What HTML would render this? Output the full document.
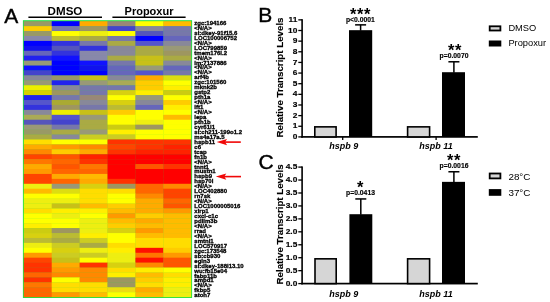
<!DOCTYPE html>
<html><head><meta charset="utf-8"><title>Figure</title>
<style>
html,body{margin:0;padding:0;background:#fff;}
svg{display:block;font-family:"Liberation Sans",sans-serif;filter:blur(0.4px);}
</style></head><body>
<svg width="550" height="302" viewBox="0 0 550 302" shape-rendering="auto">
<rect width="550" height="302" fill="#fff"/>
<rect x="22.9" y="20.2" width="169.2" height="277.8" fill="#22e044"/>
<rect x="23.80" y="21.20" width="28.20" height="5.23" fill="#999966"/>
<rect x="51.70" y="21.20" width="28.20" height="5.23" fill="#0000ff"/>
<rect x="79.60" y="21.20" width="28.20" height="5.23" fill="#ffaa00"/>
<rect x="107.50" y="21.20" width="28.20" height="5.23" fill="#998877"/>
<rect x="135.40" y="21.20" width="28.20" height="5.23" fill="#ffff00"/>
<rect x="163.30" y="21.20" width="27.90" height="5.23" fill="#ffbb00"/>
<rect x="23.80" y="26.13" width="28.20" height="5.23" fill="#ffcc00"/>
<rect x="51.70" y="26.13" width="28.20" height="5.23" fill="#7777aa"/>
<rect x="79.60" y="26.13" width="28.20" height="5.23" fill="#9e9660"/>
<rect x="107.50" y="26.13" width="28.20" height="5.23" fill="#4444cc"/>
<rect x="135.40" y="26.13" width="28.20" height="5.23" fill="#888899"/>
<rect x="163.30" y="26.13" width="27.90" height="5.23" fill="#7777aa"/>
<rect x="23.80" y="31.05" width="28.20" height="5.23" fill="#999966"/>
<rect x="51.70" y="31.05" width="28.20" height="5.23" fill="#ffff00"/>
<rect x="79.60" y="31.05" width="28.20" height="5.23" fill="#eeee11"/>
<rect x="107.50" y="31.05" width="28.20" height="5.23" fill="#ffff00"/>
<rect x="135.40" y="31.05" width="28.20" height="5.23" fill="#5555bb"/>
<rect x="163.30" y="31.05" width="27.90" height="5.23" fill="#7777aa"/>
<rect x="23.80" y="35.98" width="28.20" height="5.23" fill="#8888aa"/>
<rect x="51.70" y="35.98" width="28.20" height="5.23" fill="#bbbb33"/>
<rect x="79.60" y="35.98" width="28.20" height="5.23" fill="#aaaa44"/>
<rect x="107.50" y="35.98" width="28.20" height="5.23" fill="#7777aa"/>
<rect x="135.40" y="35.98" width="28.20" height="5.23" fill="#0000ff"/>
<rect x="163.30" y="35.98" width="27.90" height="5.23" fill="#6666bb"/>
<rect x="23.80" y="40.91" width="28.20" height="5.23" fill="#0000ff"/>
<rect x="51.70" y="40.91" width="28.20" height="5.23" fill="#3333dd"/>
<rect x="79.60" y="40.91" width="28.20" height="5.23" fill="#7777aa"/>
<rect x="107.50" y="40.91" width="28.20" height="5.23" fill="#aaaa44"/>
<rect x="135.40" y="40.91" width="28.20" height="5.23" fill="#5555cc"/>
<rect x="163.30" y="40.91" width="27.90" height="5.23" fill="#888899"/>
<rect x="23.80" y="45.83" width="28.20" height="5.23" fill="#1111ee"/>
<rect x="51.70" y="45.83" width="28.20" height="5.23" fill="#5555bb"/>
<rect x="79.60" y="45.83" width="28.20" height="5.23" fill="#3333dd"/>
<rect x="107.50" y="45.83" width="28.20" height="5.23" fill="#888899"/>
<rect x="135.40" y="45.83" width="28.20" height="5.23" fill="#aaaa44"/>
<rect x="163.30" y="45.83" width="27.90" height="5.23" fill="#999977"/>
<rect x="23.80" y="50.76" width="28.20" height="5.23" fill="#6666bb"/>
<rect x="51.70" y="50.76" width="28.20" height="5.23" fill="#3333dd"/>
<rect x="79.60" y="50.76" width="28.20" height="5.23" fill="#8888aa"/>
<rect x="107.50" y="50.76" width="28.20" height="5.23" fill="#888899"/>
<rect x="135.40" y="50.76" width="28.20" height="5.23" fill="#aaaa44"/>
<rect x="163.30" y="50.76" width="27.90" height="5.23" fill="#9e9660"/>
<rect x="23.80" y="55.69" width="28.20" height="5.23" fill="#2222ee"/>
<rect x="51.70" y="55.69" width="28.20" height="5.23" fill="#1111ff"/>
<rect x="79.60" y="55.69" width="28.20" height="5.23" fill="#8888aa"/>
<rect x="107.50" y="55.69" width="28.20" height="5.23" fill="#aaaa44"/>
<rect x="135.40" y="55.69" width="28.20" height="5.23" fill="#c8c018"/>
<rect x="163.30" y="55.69" width="27.90" height="5.23" fill="#aaaa44"/>
<rect x="23.80" y="60.61" width="28.20" height="5.23" fill="#999977"/>
<rect x="51.70" y="60.61" width="28.20" height="5.23" fill="#0000ff"/>
<rect x="79.60" y="60.61" width="28.20" height="5.23" fill="#1111ff"/>
<rect x="107.50" y="60.61" width="28.20" height="5.23" fill="#7777aa"/>
<rect x="135.40" y="60.61" width="28.20" height="5.23" fill="#c8c018"/>
<rect x="163.30" y="60.61" width="27.90" height="5.23" fill="#888899"/>
<rect x="23.80" y="65.54" width="28.20" height="5.23" fill="#1111ff"/>
<rect x="51.70" y="65.54" width="28.20" height="5.23" fill="#0000ff"/>
<rect x="79.60" y="65.54" width="28.20" height="5.23" fill="#1111ee"/>
<rect x="107.50" y="65.54" width="28.20" height="5.23" fill="#6666bb"/>
<rect x="135.40" y="65.54" width="28.20" height="5.23" fill="#999977"/>
<rect x="163.30" y="65.54" width="27.90" height="5.23" fill="#6666bb"/>
<rect x="23.80" y="70.47" width="28.20" height="5.23" fill="#4444cc"/>
<rect x="51.70" y="70.47" width="28.20" height="5.23" fill="#0000ff"/>
<rect x="79.60" y="70.47" width="28.20" height="5.23" fill="#0000ff"/>
<rect x="107.50" y="70.47" width="28.20" height="5.23" fill="#6666bb"/>
<rect x="135.40" y="70.47" width="28.20" height="5.23" fill="#5555cc"/>
<rect x="163.30" y="70.47" width="27.90" height="5.23" fill="#7777aa"/>
<rect x="23.80" y="75.39" width="28.20" height="5.23" fill="#888899"/>
<rect x="51.70" y="75.39" width="28.20" height="5.23" fill="#999966"/>
<rect x="79.60" y="75.39" width="28.20" height="5.23" fill="#c8c018"/>
<rect x="107.50" y="75.39" width="28.20" height="5.23" fill="#888899"/>
<rect x="135.40" y="75.39" width="28.20" height="5.23" fill="#ffaa00"/>
<rect x="163.30" y="75.39" width="27.90" height="5.23" fill="#dddd11"/>
<rect x="23.80" y="80.32" width="28.20" height="5.23" fill="#999977"/>
<rect x="51.70" y="80.32" width="28.20" height="5.23" fill="#2222ee"/>
<rect x="79.60" y="80.32" width="28.20" height="5.23" fill="#999977"/>
<rect x="107.50" y="80.32" width="28.20" height="5.23" fill="#aaaa55"/>
<rect x="135.40" y="80.32" width="28.20" height="5.23" fill="#ffcc00"/>
<rect x="163.30" y="80.32" width="27.90" height="5.23" fill="#ffff00"/>
<rect x="23.80" y="85.25" width="28.20" height="5.23" fill="#eeee00"/>
<rect x="51.70" y="85.25" width="28.20" height="5.23" fill="#888899"/>
<rect x="79.60" y="85.25" width="28.20" height="5.23" fill="#7777aa"/>
<rect x="107.50" y="85.25" width="28.20" height="5.23" fill="#7777aa"/>
<rect x="135.40" y="85.25" width="28.20" height="5.23" fill="#ffcc00"/>
<rect x="163.30" y="85.25" width="27.90" height="5.23" fill="#ffee00"/>
<rect x="23.80" y="90.18" width="28.20" height="5.23" fill="#d8d000"/>
<rect x="51.70" y="90.18" width="28.20" height="5.23" fill="#9e9660"/>
<rect x="79.60" y="90.18" width="28.20" height="5.23" fill="#7777aa"/>
<rect x="107.50" y="90.18" width="28.20" height="5.23" fill="#d8d010"/>
<rect x="135.40" y="90.18" width="28.20" height="5.23" fill="#ffee00"/>
<rect x="163.30" y="90.18" width="27.90" height="5.23" fill="#cccc11"/>
<rect x="23.80" y="95.10" width="28.20" height="5.23" fill="#2222ee"/>
<rect x="51.70" y="95.10" width="28.20" height="5.23" fill="#7777aa"/>
<rect x="79.60" y="95.10" width="28.20" height="5.23" fill="#998877"/>
<rect x="107.50" y="95.10" width="28.20" height="5.23" fill="#ffff00"/>
<rect x="135.40" y="95.10" width="28.20" height="5.23" fill="#999977"/>
<rect x="163.30" y="95.10" width="27.90" height="5.23" fill="#ffff00"/>
<rect x="23.80" y="100.03" width="28.20" height="5.23" fill="#5555cc"/>
<rect x="51.70" y="100.03" width="28.20" height="5.23" fill="#aaaa33"/>
<rect x="79.60" y="100.03" width="28.20" height="5.23" fill="#888899"/>
<rect x="107.50" y="100.03" width="28.20" height="5.23" fill="#d8d010"/>
<rect x="135.40" y="100.03" width="28.20" height="5.23" fill="#888899"/>
<rect x="163.30" y="100.03" width="27.90" height="5.23" fill="#ffcc00"/>
<rect x="23.80" y="104.96" width="28.20" height="5.23" fill="#3333dd"/>
<rect x="51.70" y="104.96" width="28.20" height="5.23" fill="#9e9660"/>
<rect x="79.60" y="104.96" width="28.20" height="5.23" fill="#7777aa"/>
<rect x="107.50" y="104.96" width="28.20" height="5.23" fill="#bbbb33"/>
<rect x="135.40" y="104.96" width="28.20" height="5.23" fill="#6666bb"/>
<rect x="163.30" y="104.96" width="27.90" height="5.23" fill="#ffee00"/>
<rect x="23.80" y="109.88" width="28.20" height="5.23" fill="#888899"/>
<rect x="51.70" y="109.88" width="28.20" height="5.23" fill="#eeee00"/>
<rect x="79.60" y="109.88" width="28.20" height="5.23" fill="#c8c018"/>
<rect x="107.50" y="109.88" width="28.20" height="5.23" fill="#ffcc00"/>
<rect x="135.40" y="109.88" width="28.20" height="5.23" fill="#ffff00"/>
<rect x="163.30" y="109.88" width="27.90" height="5.23" fill="#ffff00"/>
<rect x="23.80" y="114.81" width="28.20" height="5.23" fill="#aaaa55"/>
<rect x="51.70" y="114.81" width="28.20" height="5.23" fill="#5555cc"/>
<rect x="79.60" y="114.81" width="28.20" height="5.23" fill="#999977"/>
<rect x="107.50" y="114.81" width="28.20" height="5.23" fill="#ffff00"/>
<rect x="135.40" y="114.81" width="28.20" height="5.23" fill="#ffff00"/>
<rect x="163.30" y="114.81" width="27.90" height="5.23" fill="#ffbb00"/>
<rect x="23.80" y="119.74" width="28.20" height="5.23" fill="#5555bb"/>
<rect x="51.70" y="119.74" width="28.20" height="5.23" fill="#4444cc"/>
<rect x="79.60" y="119.74" width="28.20" height="5.23" fill="#aaaa44"/>
<rect x="107.50" y="119.74" width="28.20" height="5.23" fill="#ffff00"/>
<rect x="135.40" y="119.74" width="28.20" height="5.23" fill="#eeee11"/>
<rect x="163.30" y="119.74" width="27.90" height="5.23" fill="#ffff00"/>
<rect x="23.80" y="124.66" width="28.20" height="5.23" fill="#999977"/>
<rect x="51.70" y="124.66" width="28.20" height="5.23" fill="#7777aa"/>
<rect x="79.60" y="124.66" width="28.20" height="5.23" fill="#aaaa44"/>
<rect x="107.50" y="124.66" width="28.20" height="5.23" fill="#cccc11"/>
<rect x="135.40" y="124.66" width="28.20" height="5.23" fill="#9e9660"/>
<rect x="163.30" y="124.66" width="27.90" height="5.23" fill="#ffff00"/>
<rect x="23.80" y="129.59" width="28.20" height="5.23" fill="#999966"/>
<rect x="51.70" y="129.59" width="28.20" height="5.23" fill="#aaaa44"/>
<rect x="79.60" y="129.59" width="28.20" height="5.23" fill="#999977"/>
<rect x="107.50" y="129.59" width="28.20" height="5.23" fill="#ffee00"/>
<rect x="135.40" y="129.59" width="28.20" height="5.23" fill="#ffff00"/>
<rect x="163.30" y="129.59" width="27.90" height="5.23" fill="#ffff00"/>
<rect x="23.80" y="134.52" width="28.20" height="5.23" fill="#aaaa44"/>
<rect x="51.70" y="134.52" width="28.20" height="5.23" fill="#888899"/>
<rect x="79.60" y="134.52" width="28.20" height="5.23" fill="#cccc22"/>
<rect x="107.50" y="134.52" width="28.20" height="5.23" fill="#cccc22"/>
<rect x="135.40" y="134.52" width="28.20" height="5.23" fill="#ffff00"/>
<rect x="163.30" y="134.52" width="27.90" height="5.23" fill="#ffff00"/>
<rect x="23.80" y="139.44" width="28.20" height="5.23" fill="#ffdd00"/>
<rect x="51.70" y="139.44" width="28.20" height="5.23" fill="#ffff00"/>
<rect x="79.60" y="139.44" width="28.20" height="5.23" fill="#ffff00"/>
<rect x="107.50" y="139.44" width="28.20" height="5.23" fill="#ff3300"/>
<rect x="135.40" y="139.44" width="28.20" height="5.23" fill="#ff3300"/>
<rect x="163.30" y="139.44" width="27.90" height="5.23" fill="#ff3300"/>
<rect x="23.80" y="144.37" width="28.20" height="5.23" fill="#ffaa00"/>
<rect x="51.70" y="144.37" width="28.20" height="5.23" fill="#ff9900"/>
<rect x="79.60" y="144.37" width="28.20" height="5.23" fill="#ff8800"/>
<rect x="107.50" y="144.37" width="28.20" height="5.23" fill="#ff4400"/>
<rect x="135.40" y="144.37" width="28.20" height="5.23" fill="#ff3300"/>
<rect x="163.30" y="144.37" width="27.90" height="5.23" fill="#ff2200"/>
<rect x="23.80" y="149.30" width="28.20" height="5.23" fill="#ff8800"/>
<rect x="51.70" y="149.30" width="28.20" height="5.23" fill="#ffcc00"/>
<rect x="79.60" y="149.30" width="28.20" height="5.23" fill="#ffaa00"/>
<rect x="107.50" y="149.30" width="28.20" height="5.23" fill="#ff3300"/>
<rect x="135.40" y="149.30" width="28.20" height="5.23" fill="#ff2200"/>
<rect x="163.30" y="149.30" width="27.90" height="5.23" fill="#ff2200"/>
<rect x="23.80" y="154.22" width="28.20" height="5.23" fill="#ff4400"/>
<rect x="51.70" y="154.22" width="28.20" height="5.23" fill="#ff5500"/>
<rect x="79.60" y="154.22" width="28.20" height="5.23" fill="#ff2200"/>
<rect x="107.50" y="154.22" width="28.20" height="5.23" fill="#ff0000"/>
<rect x="135.40" y="154.22" width="28.20" height="5.23" fill="#ff0000"/>
<rect x="163.30" y="154.22" width="27.90" height="5.23" fill="#ff0000"/>
<rect x="23.80" y="159.15" width="28.20" height="5.23" fill="#ff7700"/>
<rect x="51.70" y="159.15" width="28.20" height="5.23" fill="#ff6600"/>
<rect x="79.60" y="159.15" width="28.20" height="5.23" fill="#ff3300"/>
<rect x="107.50" y="159.15" width="28.20" height="5.23" fill="#ff0000"/>
<rect x="135.40" y="159.15" width="28.20" height="5.23" fill="#ff0000"/>
<rect x="163.30" y="159.15" width="27.90" height="5.23" fill="#ff0000"/>
<rect x="23.80" y="164.08" width="28.20" height="5.23" fill="#ffaa00"/>
<rect x="51.70" y="164.08" width="28.20" height="5.23" fill="#ff5500"/>
<rect x="79.60" y="164.08" width="28.20" height="5.23" fill="#ff7700"/>
<rect x="107.50" y="164.08" width="28.20" height="5.23" fill="#ff0000"/>
<rect x="135.40" y="164.08" width="28.20" height="5.23" fill="#ff5500"/>
<rect x="163.30" y="164.08" width="27.90" height="5.23" fill="#ff3300"/>
<rect x="23.80" y="169.00" width="28.20" height="5.23" fill="#ff9900"/>
<rect x="51.70" y="169.00" width="28.20" height="5.23" fill="#ff6600"/>
<rect x="79.60" y="169.00" width="28.20" height="5.23" fill="#ff6600"/>
<rect x="107.50" y="169.00" width="28.20" height="5.23" fill="#ff0000"/>
<rect x="135.40" y="169.00" width="28.20" height="5.23" fill="#ff0000"/>
<rect x="163.30" y="169.00" width="27.90" height="5.23" fill="#ff0000"/>
<rect x="23.80" y="173.93" width="28.20" height="5.23" fill="#ff4400"/>
<rect x="51.70" y="173.93" width="28.20" height="5.23" fill="#ffaa00"/>
<rect x="79.60" y="173.93" width="28.20" height="5.23" fill="#ffbb00"/>
<rect x="107.50" y="173.93" width="28.20" height="5.23" fill="#ff0000"/>
<rect x="135.40" y="173.93" width="28.20" height="5.23" fill="#ff0000"/>
<rect x="163.30" y="173.93" width="27.90" height="5.23" fill="#ff0000"/>
<rect x="23.80" y="178.86" width="28.20" height="5.23" fill="#ff4400"/>
<rect x="51.70" y="178.86" width="28.20" height="5.23" fill="#ff6600"/>
<rect x="79.60" y="178.86" width="28.20" height="5.23" fill="#ffaa00"/>
<rect x="107.50" y="178.86" width="28.20" height="5.23" fill="#ff3300"/>
<rect x="135.40" y="178.86" width="28.20" height="5.23" fill="#ff0000"/>
<rect x="163.30" y="178.86" width="27.90" height="5.23" fill="#ff0000"/>
<rect x="23.80" y="183.78" width="28.20" height="5.23" fill="#eeee11"/>
<rect x="51.70" y="183.78" width="28.20" height="5.23" fill="#999977"/>
<rect x="79.60" y="183.78" width="28.20" height="5.23" fill="#d8d010"/>
<rect x="107.50" y="183.78" width="28.20" height="5.23" fill="#9e9660"/>
<rect x="135.40" y="183.78" width="28.20" height="5.23" fill="#ff6600"/>
<rect x="163.30" y="183.78" width="27.90" height="5.23" fill="#ff8800"/>
<rect x="23.80" y="188.71" width="28.20" height="5.23" fill="#ffbb00"/>
<rect x="51.70" y="188.71" width="28.20" height="5.23" fill="#dddd11"/>
<rect x="79.60" y="188.71" width="28.20" height="5.23" fill="#ffdd00"/>
<rect x="107.50" y="188.71" width="28.20" height="5.23" fill="#ffdd00"/>
<rect x="135.40" y="188.71" width="28.20" height="5.23" fill="#ff6600"/>
<rect x="163.30" y="188.71" width="27.90" height="5.23" fill="#ff4400"/>
<rect x="23.80" y="193.64" width="28.20" height="5.23" fill="#ffff00"/>
<rect x="51.70" y="193.64" width="28.20" height="5.23" fill="#ffff00"/>
<rect x="79.60" y="193.64" width="28.20" height="5.23" fill="#ffdd00"/>
<rect x="107.50" y="193.64" width="28.20" height="5.23" fill="#ffff00"/>
<rect x="135.40" y="193.64" width="28.20" height="5.23" fill="#ff8800"/>
<rect x="163.30" y="193.64" width="27.90" height="5.23" fill="#ff4400"/>
<rect x="23.80" y="198.56" width="28.20" height="5.23" fill="#eeee11"/>
<rect x="51.70" y="198.56" width="28.20" height="5.23" fill="#eeee11"/>
<rect x="79.60" y="198.56" width="28.20" height="5.23" fill="#ffdd00"/>
<rect x="107.50" y="198.56" width="28.20" height="5.23" fill="#ffff00"/>
<rect x="135.40" y="198.56" width="28.20" height="5.23" fill="#ffaa00"/>
<rect x="163.30" y="198.56" width="27.90" height="5.23" fill="#ff6600"/>
<rect x="23.80" y="203.49" width="28.20" height="5.23" fill="#eeee11"/>
<rect x="51.70" y="203.49" width="28.20" height="5.23" fill="#c8c018"/>
<rect x="79.60" y="203.49" width="28.20" height="5.23" fill="#ffbb00"/>
<rect x="107.50" y="203.49" width="28.20" height="5.23" fill="#ffcc00"/>
<rect x="135.40" y="203.49" width="28.20" height="5.23" fill="#ffaa00"/>
<rect x="163.30" y="203.49" width="27.90" height="5.23" fill="#ff5500"/>
<rect x="23.80" y="208.42" width="28.20" height="5.23" fill="#ffdd00"/>
<rect x="51.70" y="208.42" width="28.20" height="5.23" fill="#ffee00"/>
<rect x="79.60" y="208.42" width="28.20" height="5.23" fill="#ffee00"/>
<rect x="107.50" y="208.42" width="28.20" height="5.23" fill="#ffbb00"/>
<rect x="135.40" y="208.42" width="28.20" height="5.23" fill="#ffaa00"/>
<rect x="163.30" y="208.42" width="27.90" height="5.23" fill="#ff9900"/>
<rect x="23.80" y="213.34" width="28.20" height="5.23" fill="#ffff00"/>
<rect x="51.70" y="213.34" width="28.20" height="5.23" fill="#eeee11"/>
<rect x="79.60" y="213.34" width="28.20" height="5.23" fill="#ffff00"/>
<rect x="107.50" y="213.34" width="28.20" height="5.23" fill="#ff9900"/>
<rect x="135.40" y="213.34" width="28.20" height="5.23" fill="#ffcc00"/>
<rect x="163.30" y="213.34" width="27.90" height="5.23" fill="#ffbb00"/>
<rect x="23.80" y="218.27" width="28.20" height="5.23" fill="#ffff00"/>
<rect x="51.70" y="218.27" width="28.20" height="5.23" fill="#ffff00"/>
<rect x="79.60" y="218.27" width="28.20" height="5.23" fill="#eeee11"/>
<rect x="107.50" y="218.27" width="28.20" height="5.23" fill="#ffbb00"/>
<rect x="135.40" y="218.27" width="28.20" height="5.23" fill="#ffaa00"/>
<rect x="163.30" y="218.27" width="27.90" height="5.23" fill="#ffbb00"/>
<rect x="23.80" y="223.20" width="28.20" height="5.23" fill="#ffee00"/>
<rect x="51.70" y="223.20" width="28.20" height="5.23" fill="#ffff00"/>
<rect x="79.60" y="223.20" width="28.20" height="5.23" fill="#eeee11"/>
<rect x="107.50" y="223.20" width="28.20" height="5.23" fill="#ffcc00"/>
<rect x="135.40" y="223.20" width="28.20" height="5.23" fill="#ffbb00"/>
<rect x="163.30" y="223.20" width="27.90" height="5.23" fill="#ffbb00"/>
<rect x="23.80" y="228.12" width="28.20" height="5.23" fill="#cccc11"/>
<rect x="51.70" y="228.12" width="28.20" height="5.23" fill="#9e9660"/>
<rect x="79.60" y="228.12" width="28.20" height="5.23" fill="#eeee11"/>
<rect x="107.50" y="228.12" width="28.20" height="5.23" fill="#d8d010"/>
<rect x="135.40" y="228.12" width="28.20" height="5.23" fill="#ff9900"/>
<rect x="163.30" y="228.12" width="27.90" height="5.23" fill="#ffbb00"/>
<rect x="23.80" y="233.05" width="28.20" height="5.23" fill="#d8d010"/>
<rect x="51.70" y="233.05" width="28.20" height="5.23" fill="#bbbb33"/>
<rect x="79.60" y="233.05" width="28.20" height="5.23" fill="#ffee00"/>
<rect x="107.50" y="233.05" width="28.20" height="5.23" fill="#ffff00"/>
<rect x="135.40" y="233.05" width="28.20" height="5.23" fill="#ffbb00"/>
<rect x="163.30" y="233.05" width="27.90" height="5.23" fill="#ffbb00"/>
<rect x="23.80" y="237.98" width="28.20" height="5.23" fill="#bbbb33"/>
<rect x="51.70" y="237.98" width="28.20" height="5.23" fill="#aaaa44"/>
<rect x="79.60" y="237.98" width="28.20" height="5.23" fill="#cccc22"/>
<rect x="107.50" y="237.98" width="28.20" height="5.23" fill="#ffff00"/>
<rect x="135.40" y="237.98" width="28.20" height="5.23" fill="#ffdd00"/>
<rect x="163.30" y="237.98" width="27.90" height="5.23" fill="#ffdd00"/>
<rect x="23.80" y="242.91" width="28.20" height="5.23" fill="#eeee11"/>
<rect x="51.70" y="242.91" width="28.20" height="5.23" fill="#cccc22"/>
<rect x="79.60" y="242.91" width="28.20" height="5.23" fill="#aaaa44"/>
<rect x="107.50" y="242.91" width="28.20" height="5.23" fill="#ffdd00"/>
<rect x="135.40" y="242.91" width="28.20" height="5.23" fill="#ffdd00"/>
<rect x="163.30" y="242.91" width="27.90" height="5.23" fill="#ffdd00"/>
<rect x="23.80" y="247.83" width="28.20" height="5.23" fill="#ffff00"/>
<rect x="51.70" y="247.83" width="28.20" height="5.23" fill="#d8d010"/>
<rect x="79.60" y="247.83" width="28.20" height="5.23" fill="#eeee11"/>
<rect x="107.50" y="247.83" width="28.20" height="5.23" fill="#ffee00"/>
<rect x="135.40" y="247.83" width="28.20" height="5.23" fill="#ff1100"/>
<rect x="163.30" y="247.83" width="27.90" height="5.23" fill="#ffcc00"/>
<rect x="23.80" y="252.76" width="28.20" height="5.23" fill="#ff9900"/>
<rect x="51.70" y="252.76" width="28.20" height="5.23" fill="#cccc22"/>
<rect x="79.60" y="252.76" width="28.20" height="5.23" fill="#cccc22"/>
<rect x="107.50" y="252.76" width="28.20" height="5.23" fill="#eeee11"/>
<rect x="135.40" y="252.76" width="28.20" height="5.23" fill="#ff7700"/>
<rect x="163.30" y="252.76" width="27.90" height="5.23" fill="#ff9900"/>
<rect x="23.80" y="257.69" width="28.20" height="5.23" fill="#ff4400"/>
<rect x="51.70" y="257.69" width="28.20" height="5.23" fill="#c8c018"/>
<rect x="79.60" y="257.69" width="28.20" height="5.23" fill="#ffff00"/>
<rect x="107.50" y="257.69" width="28.20" height="5.23" fill="#eeee11"/>
<rect x="135.40" y="257.69" width="28.20" height="5.23" fill="#ff1100"/>
<rect x="163.30" y="257.69" width="27.90" height="5.23" fill="#ff5500"/>
<rect x="23.80" y="262.61" width="28.20" height="5.23" fill="#ff3300"/>
<rect x="51.70" y="262.61" width="28.20" height="5.23" fill="#ffaa00"/>
<rect x="79.60" y="262.61" width="28.20" height="5.23" fill="#ff3300"/>
<rect x="107.50" y="262.61" width="28.20" height="5.23" fill="#d8d010"/>
<rect x="135.40" y="262.61" width="28.20" height="5.23" fill="#ff8800"/>
<rect x="163.30" y="262.61" width="27.90" height="5.23" fill="#ff5500"/>
<rect x="23.80" y="267.54" width="28.20" height="5.23" fill="#ff3300"/>
<rect x="51.70" y="267.54" width="28.20" height="5.23" fill="#ff9900"/>
<rect x="79.60" y="267.54" width="28.20" height="5.23" fill="#ff8800"/>
<rect x="107.50" y="267.54" width="28.20" height="5.23" fill="#ffdd00"/>
<rect x="135.40" y="267.54" width="28.20" height="5.23" fill="#ffee00"/>
<rect x="163.30" y="267.54" width="27.90" height="5.23" fill="#ffff00"/>
<rect x="23.80" y="272.47" width="28.20" height="5.23" fill="#ff6600"/>
<rect x="51.70" y="272.47" width="28.20" height="5.23" fill="#ff8800"/>
<rect x="79.60" y="272.47" width="28.20" height="5.23" fill="#ff8800"/>
<rect x="107.50" y="272.47" width="28.20" height="5.23" fill="#ffee00"/>
<rect x="135.40" y="272.47" width="28.20" height="5.23" fill="#ffbb00"/>
<rect x="163.30" y="272.47" width="27.90" height="5.23" fill="#ffdd00"/>
<rect x="23.80" y="277.39" width="28.20" height="5.23" fill="#ff3300"/>
<rect x="51.70" y="277.39" width="28.20" height="5.23" fill="#ffff00"/>
<rect x="79.60" y="277.39" width="28.20" height="5.23" fill="#ff8800"/>
<rect x="107.50" y="277.39" width="28.20" height="5.23" fill="#9e9660"/>
<rect x="135.40" y="277.39" width="28.20" height="5.23" fill="#ffcc00"/>
<rect x="163.30" y="277.39" width="27.90" height="5.23" fill="#ffee00"/>
<rect x="23.80" y="282.32" width="28.20" height="5.23" fill="#ff7700"/>
<rect x="51.70" y="282.32" width="28.20" height="5.23" fill="#ffdd00"/>
<rect x="79.60" y="282.32" width="28.20" height="5.23" fill="#ffdd00"/>
<rect x="107.50" y="282.32" width="28.20" height="5.23" fill="#9e9660"/>
<rect x="135.40" y="282.32" width="28.20" height="5.23" fill="#ffdd00"/>
<rect x="163.30" y="282.32" width="27.90" height="5.23" fill="#ffee00"/>
<rect x="23.80" y="287.25" width="28.20" height="5.23" fill="#ff6600"/>
<rect x="51.70" y="287.25" width="28.20" height="5.23" fill="#ffdd00"/>
<rect x="79.60" y="287.25" width="28.20" height="5.23" fill="#ffdd00"/>
<rect x="107.50" y="287.25" width="28.20" height="5.23" fill="#eedd11"/>
<rect x="135.40" y="287.25" width="28.20" height="5.23" fill="#ffaa00"/>
<rect x="163.30" y="287.25" width="27.90" height="5.23" fill="#eeee11"/>
<rect x="23.80" y="292.17" width="28.20" height="4.93" fill="#ff6600"/>
<rect x="51.70" y="292.17" width="28.20" height="4.93" fill="#ff9900"/>
<rect x="79.60" y="292.17" width="28.20" height="4.93" fill="#ffbb00"/>
<rect x="107.50" y="292.17" width="28.20" height="4.93" fill="#ffff00"/>
<rect x="135.40" y="292.17" width="28.20" height="4.93" fill="#ffbb00"/>
<rect x="163.30" y="292.17" width="27.90" height="4.93" fill="#eeee11"/>
<g font-size="6.0" font-weight="bold" fill="#000" stroke="#000" stroke-width="0.3">
<text x="194.3" y="24.90">zgc:194166</text>
<text x="194.3" y="29.85">&lt;N/A&gt;</text>
<text x="194.3" y="34.81">si:dkey-91f15.6</text>
<text x="194.3" y="39.76">LOC100006752</text>
<text x="194.3" y="44.71">&lt;N/A&gt;</text>
<text x="194.3" y="49.66">LOC799859</text>
<text x="194.3" y="54.62">tmem176l.2</text>
<text x="194.3" y="59.57">&lt;N/A&gt;</text>
<text x="194.3" y="64.52">im:7137886</text>
<text x="194.3" y="69.48">&lt;N/A&gt;</text>
<text x="194.3" y="74.43">&lt;N/A&gt;</text>
<text x="194.3" y="79.38">arf4b</text>
<text x="194.3" y="84.34">zgc:101560</text>
<text x="194.3" y="89.29">mknk2b</text>
<text x="194.3" y="94.24">gstp2</text>
<text x="194.3" y="99.19">pth1a</text>
<text x="194.3" y="104.15">&lt;N/A&gt;</text>
<text x="194.3" y="109.10">ift1</text>
<text x="194.3" y="114.05">&lt;N/A&gt;</text>
<text x="194.3" y="119.01">lepa</text>
<text x="194.3" y="123.96">pth1b</text>
<text x="194.3" y="128.91">cyr61l1</text>
<text x="194.3" y="133.87">si:ch211-199o1.2</text>
<text x="194.3" y="138.82">ms4a17a.5</text>
<text x="194.3" y="143.77">hspb11</text>
<text x="194.3" y="148.72">c6</text>
<text x="194.3" y="153.68">tcap</text>
<text x="194.3" y="158.63">fn1b</text>
<text x="194.3" y="163.58">&lt;N/A&gt;</text>
<text x="194.3" y="168.54">tnnt1</text>
<text x="194.3" y="173.49">mustn1</text>
<text x="194.3" y="178.44">hspb9</text>
<text x="194.3" y="183.40">hsp70l</text>
<text x="194.3" y="188.35">&lt;N/A&gt;</text>
<text x="194.3" y="193.30">LOC402880</text>
<text x="194.3" y="198.26">rn7sk</text>
<text x="194.3" y="203.21">&lt;N/A&gt;</text>
<text x="194.3" y="208.16">LOC1000005016</text>
<text x="194.3" y="213.11">xirp1</text>
<text x="194.3" y="218.07">cxcl-c1c</text>
<text x="194.3" y="223.02">pdlim3b</text>
<text x="194.3" y="227.97">&lt;N/A&gt;</text>
<text x="194.3" y="232.93">rrad</text>
<text x="194.3" y="237.88">&lt;N/A&gt;</text>
<text x="194.3" y="242.83">smtnl1</text>
<text x="194.3" y="247.79">LOC570917</text>
<text x="194.3" y="252.74">zgc:173548</text>
<text x="194.3" y="257.69">sb:cb930</text>
<text x="194.3" y="262.64">egln3</text>
<text x="194.3" y="267.60">si:dkey-188i13.10</text>
<text x="194.3" y="272.55">wu:fb15e04</text>
<text x="194.3" y="277.50">fabp11b</text>
<text x="194.3" y="282.46">ampd1</text>
<text x="194.3" y="287.41">&lt;N/A&gt;</text>
<text x="194.3" y="292.36">fkbp5</text>
<text x="194.3" y="297.31">atoh7</text>
</g>
<text x="4.2" y="22.6" font-size="21" stroke="#000" stroke-width="0.4">A</text>
<text x="65" y="15" font-size="11.6" font-weight="bold" text-anchor="middle">DMSO</text>
<text x="149" y="15" font-size="11" font-weight="bold" text-anchor="middle">Propoxur</text>
<rect x="28.4" y="16.5" width="73.6" height="1.5" fill="#000"/>
<rect x="112.4" y="16.5" width="73.2" height="1.5" fill="#000"/>
<rect x="222.6" y="141.29999999999998" width="18.200000000000017" height="1.6" fill="#f00808"/><path d="M216.6 142.1 L227.1 138.9 L225.1 142.1 L227.1 145.29999999999998 Z" fill="#f00808"/>
<rect x="221.8" y="175.79999999999998" width="19.19999999999999" height="1.6" fill="#f00808"/><path d="M215.8 176.6 L226.3 173.4 L224.3 176.6 L226.3 179.79999999999998 Z" fill="#f00808"/>
<text x="258.2" y="22.4" font-size="21" stroke="#000" stroke-width="0.4">B</text>
<rect x="301.3" y="19.16" width="1.6" height="118.54" fill="#000"/>
<rect x="301.3" y="136.05" width="176.50" height="1.7" fill="#000"/>
<g font-size="7.4" font-weight="bold" text-anchor="end" stroke="#000" stroke-width="0.15">
<rect x="298.3" y="136.25" width="3.8" height="1.3" fill="#000" stroke="none"/>
<text transform="translate(297.3 139.05) scale(1.13 1)">0</text>
<rect x="298.3" y="125.61" width="3.8" height="1.3" fill="#000" stroke="none"/>
<text transform="translate(297.3 128.41) scale(1.13 1)">1</text>
<rect x="298.3" y="114.97" width="3.8" height="1.3" fill="#000" stroke="none"/>
<text transform="translate(297.3 117.77) scale(1.13 1)">2</text>
<rect x="298.3" y="104.33" width="3.8" height="1.3" fill="#000" stroke="none"/>
<text transform="translate(297.3 107.13) scale(1.13 1)">3</text>
<rect x="298.3" y="93.69" width="3.8" height="1.3" fill="#000" stroke="none"/>
<text transform="translate(297.3 96.49) scale(1.13 1)">4</text>
<rect x="298.3" y="83.05" width="3.8" height="1.3" fill="#000" stroke="none"/>
<text transform="translate(297.3 85.85) scale(1.13 1)">5</text>
<rect x="298.3" y="72.41" width="3.8" height="1.3" fill="#000" stroke="none"/>
<text transform="translate(297.3 75.21) scale(1.13 1)">6</text>
<rect x="298.3" y="61.77" width="3.8" height="1.3" fill="#000" stroke="none"/>
<text transform="translate(297.3 64.57) scale(1.13 1)">7</text>
<rect x="298.3" y="51.13" width="3.8" height="1.3" fill="#000" stroke="none"/>
<text transform="translate(297.3 53.93) scale(1.13 1)">8</text>
<rect x="298.3" y="40.49" width="3.8" height="1.3" fill="#000" stroke="none"/>
<text transform="translate(297.3 43.29) scale(1.13 1)">9</text>
<rect x="298.3" y="29.85" width="3.8" height="1.3" fill="#000" stroke="none"/>
<text transform="translate(297.3 32.65) scale(1.13 1)">10</text>
<rect x="298.3" y="19.21" width="3.8" height="1.3" fill="#000" stroke="none"/>
<text transform="translate(297.3 22.01) scale(1.13 1)">11</text>
</g>
<rect x="342.05" y="136.9" width="1.3" height="3.1" fill="#000"/>
<rect x="435.45000000000005" y="136.9" width="1.3" height="3.1" fill="#000"/>
<rect x="314.8" y="126.86" width="21.30" height="10.04" fill="#d6d6d6" stroke="#000" stroke-width="1.6"/>
<rect x="349" y="30.18" width="23.20" height="106.72" fill="#000"/>
<rect x="407.6" y="126.86" width="22.00" height="10.04" fill="#d6d6d6" stroke="#000" stroke-width="1.6"/>
<rect x="442" y="72.21" width="23.00" height="64.69" fill="#000"/>
<rect x="359.85" y="24.86" width="1.5" height="5.82" fill="#000"/>
<rect x="355.1" y="24.11" width="11" height="1.5" fill="#000"/>
<rect x="453.15" y="61.78" width="1.5" height="10.93" fill="#000"/>
<rect x="448.4" y="61.03" width="11" height="1.5" fill="#000"/>
<g font-size="9" font-weight="bold" font-style="italic" text-anchor="middle"><text x="343.7" y="149.4">hspb 9</text><text x="436" y="149.4">hspb 11</text></g>
<text transform="translate(282.6 77.48) rotate(-90)" font-size="9.6" font-weight="bold" stroke="#000" stroke-width="0.15" text-anchor="middle" textLength="120" lengthAdjust="spacingAndGlyphs">Relative Transcript Levels</text>
<rect x="489.7" y="26.299999999999997" width="10.7" height="4.2" fill="#d6d6d6" stroke="#000" stroke-width="1.8"/>
<text x="508.4" y="31.4" font-size="9.3">DMSO</text>
<rect x="488.8" y="40.5" width="12.5" height="6.0" fill="#000"/>
<text x="508.4" y="46.3" font-size="9.3">Propoxur</text>
<text x="360.6" y="19.6" font-size="16.5" font-weight="bold" text-anchor="middle" letter-spacing="0.6">***</text>
<text x="360.4" y="21.6" font-size="6.8" font-weight="bold" text-anchor="middle" stroke="#000" stroke-width="0.15">p&lt;0.0001</text>
<text x="454.90000000000003" y="56.3" font-size="16.5" font-weight="bold" text-anchor="middle" letter-spacing="0.6">**</text>
<text x="454" y="57.8" font-size="6.8" font-weight="bold" text-anchor="middle" stroke="#000" stroke-width="0.15">p=0.0070</text>
<text x="258.6" y="169.4" font-size="21" stroke="#000" stroke-width="0.4">C</text>
<rect x="301.3" y="166.40" width="1.6" height="118.00" fill="#000"/>
<rect x="301.3" y="282.75" width="176.50" height="1.7" fill="#000"/>
<g font-size="7.4" font-weight="bold" text-anchor="end" stroke="#000" stroke-width="0.15">
<rect x="298.3" y="282.95" width="3.8" height="1.3" fill="#000" stroke="none"/>
<text transform="translate(297.3 285.75) scale(1.13 1)">0.0</text>
<rect x="298.3" y="270.01" width="3.8" height="1.3" fill="#000" stroke="none"/>
<text transform="translate(297.3 272.81) scale(1.13 1)">0.5</text>
<rect x="298.3" y="257.06" width="3.8" height="1.3" fill="#000" stroke="none"/>
<text transform="translate(297.3 259.86) scale(1.13 1)">1.0</text>
<rect x="298.3" y="244.12" width="3.8" height="1.3" fill="#000" stroke="none"/>
<text transform="translate(297.3 246.92) scale(1.13 1)">1.5</text>
<rect x="298.3" y="231.17" width="3.8" height="1.3" fill="#000" stroke="none"/>
<text transform="translate(297.3 233.97) scale(1.13 1)">2.0</text>
<rect x="298.3" y="218.23" width="3.8" height="1.3" fill="#000" stroke="none"/>
<text transform="translate(297.3 221.03) scale(1.13 1)">2.5</text>
<rect x="298.3" y="205.28" width="3.8" height="1.3" fill="#000" stroke="none"/>
<text transform="translate(297.3 208.08) scale(1.13 1)">3.0</text>
<rect x="298.3" y="192.34" width="3.8" height="1.3" fill="#000" stroke="none"/>
<text transform="translate(297.3 195.14) scale(1.13 1)">3.5</text>
<rect x="298.3" y="179.39" width="3.8" height="1.3" fill="#000" stroke="none"/>
<text transform="translate(297.3 182.19) scale(1.13 1)">4.0</text>
<rect x="298.3" y="166.45" width="3.8" height="1.3" fill="#000" stroke="none"/>
<text transform="translate(297.3 169.25) scale(1.13 1)">4.5</text>
</g>
<rect x="315.0" y="258.83" width="21.20" height="24.77" fill="#d6d6d6" stroke="#000" stroke-width="1.6"/>
<rect x="349.4" y="214.21" width="22.90" height="69.39" fill="#000"/>
<rect x="407.6" y="258.83" width="22.00" height="24.77" fill="#d6d6d6" stroke="#000" stroke-width="1.6"/>
<rect x="442" y="181.85" width="23.00" height="101.75" fill="#000"/>
<rect x="360.05" y="198.94" width="1.5" height="15.78" fill="#000"/>
<rect x="355.3" y="198.19" width="11" height="1.5" fill="#000"/>
<rect x="453.15" y="171.76" width="1.5" height="10.60" fill="#000"/>
<rect x="448.4" y="171.01" width="11" height="1.5" fill="#000"/>
<g font-size="9" font-weight="bold" font-style="italic" text-anchor="middle"><text x="343.7" y="296.5">hspb 9</text><text x="436" y="296.5">hspb 11</text></g>
<text transform="translate(282.6 224.45) rotate(-90)" font-size="9.6" font-weight="bold" stroke="#000" stroke-width="0.15" text-anchor="middle" textLength="120" lengthAdjust="spacingAndGlyphs">Relative Transcript Levels</text>
<rect x="489.7" y="173.5" width="10.7" height="4.9" fill="#d6d6d6" stroke="#000" stroke-width="1.8"/>
<text x="508.4" y="179.5" font-size="9.9">28°C</text>
<rect x="488.8" y="189.1" width="12.5" height="6.7" fill="#000"/>
<text x="508.4" y="196.3" font-size="9.9">37°C</text>
<text x="360.5" y="193.4" font-size="16.5" font-weight="bold" text-anchor="middle" letter-spacing="0.6">*</text>
<text x="360.5" y="194.9" font-size="6.8" font-weight="bold" text-anchor="middle" stroke="#000" stroke-width="0.15">p=0.0413</text>
<text x="453.90000000000003" y="166.0" font-size="16.5" font-weight="bold" text-anchor="middle" letter-spacing="0.6">**</text>
<text x="454" y="167.6" font-size="6.8" font-weight="bold" text-anchor="middle" stroke="#000" stroke-width="0.15">p=0.0016</text>
</svg>
</body></html>
